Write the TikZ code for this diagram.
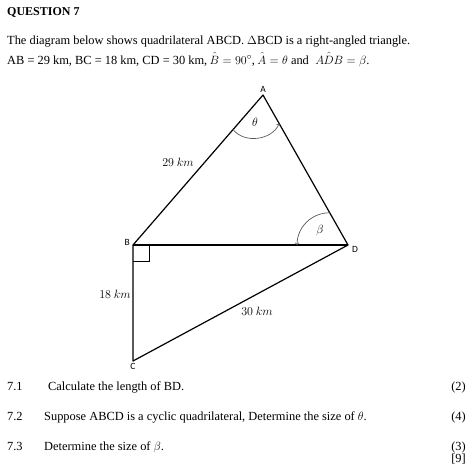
\documentclass[tikz,border=0pt]{standalone}
\usepackage{amsmath}
\usepackage{amssymb}
\usepackage{fontspec}
\setmainfont{Liberation Serif}
\newfontfamily\labelfont{Carlito}
\usepackage{tikz}
\usetikzlibrary{positioning,calc}

\begin{document}
\begin{tikzpicture}[x=1pt,y=-1pt,
    txt/.style={anchor=base west,inner sep=0pt,font=\fontsize{12.4}{14}\selectfont},
    pt/.style={font=\labelfont\fontsize{9.5}{10}\selectfont,inner sep=1pt},
    side/.style={font=\fontsize{11.5}{13}\selectfont,inner sep=1pt},
    arc/.style={->,gray!70!black,line width=0.7pt}]
  \useasboundingbox (0,0) rectangle (474,467);

  % heading
  \node[txt,font=\bfseries\fontsize{12}{14}\selectfont] (q) at (7,15) {QUESTION 7};
  \node[txt] (l1) at (7,44) {The diagram below shows quadrilateral ABCD. $\Delta$BCD is a right-angled triangle.};
  \node[txt] (l2) at (7,64) {AB = 29 km, BC = 18 km, CD = 30 km, $\hat{\mkern-1mu B}=90^\circ$, $\hat{\mkern-1mu A}=\theta$ and\; $A\hat{\mkern-1mu D}B=\beta$.};

  % corners
  \coordinate (A) at (263,95);
  \coordinate (B) at (133,245);
  \coordinate (C) at (133,361);
  \coordinate (D) at (348,245);
  \node[pt,above=1pt of A] (la) {A};
  \node[pt,left=2pt of B,yshift=3pt] (lb) {B};
  \node[pt,below right=0pt and 3pt of D] (ld) {D};
  \node[pt,below=1pt of C] (lc) {C};

  % sides
  \draw[line width=1.2pt,line join=round] (A) -- (B) -- (C) -- (D) -- cycle;
  \draw[line width=1.2pt] (B) -- (D);
  \draw[line width=0.7pt] ($(B)+(0,16)$) -| ($(B)+(16,0)$);

  % lengths
  \node[side] (ab) at (178,162) {$29\ km$};
  \node[side] (bc) at (115,294) {$18\ km$};
  \node[side] (cd) at (257,311) {$30\ km$};

  % angles
  \coordinate (t1) at ($(A)!0.23!(B)$);
  \coordinate (t2) at ($(A)!0.19!(D)$);
  \draw[arc] (t1) to[bend right=60] (t2);
  \node[side] (th) at (255,122) {$\theta$};
  \coordinate (b1) at ($(D)!0.215!(A)$);
  \coordinate (b2) at ($(D)!0.237!(B)$);
  \draw[arc] (b1) to[out=180,in=90] (b2);
  \node[side] (be) at (320,230) {$\beta$};

  % questions
  \node[txt] (n1) at (7,390) {7.1};
  \node[txt] (s1) at (48,390) {Calculate the length of BD.};
  \node[txt,anchor=base east] (m1) at (466,390) {(2)};
  \node[txt] (n2) at (7,420) {7.2};
  \node[txt] (s2) at (44,420) {Suppose ABCD is a cyclic quadrilateral, Determine the size of $\theta$.};
  \node[txt,anchor=base east] (m2) at (466,420) {(4)};
  \node[txt] (n3) at (7,450) {7.3};
  \node[txt] (s3) at (44,450) {Determine the size of $\beta$.};
  \node[txt,anchor=base east] (m3) at (466,450) {(3)};
  \node[txt,anchor=base east] (tot) at (466,462) {[9]};
\end{tikzpicture}
\end{document}
